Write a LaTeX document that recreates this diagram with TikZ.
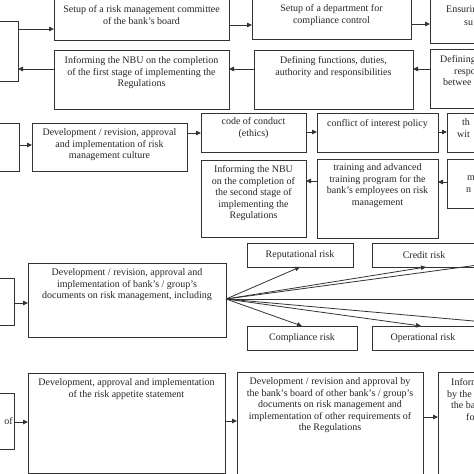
\documentclass[tikz,border=0pt]{standalone}
\usepackage{fontspec}
\setmainfont{Liberation Serif}
\usetikzlibrary{arrows.meta}
\tikzset{
  bx/.style={draw=black!80, line width=0.9pt, anchor=north west, inner sep=0pt, outer sep=0pt},
  txt/.style={font=\fontsize{10}{11.5}\selectfont, text=black!85, align=center, inner sep=0pt, anchor=north, execute at begin node=\strut},
  frag/.style={font=\fontsize{10}{11.5}\selectfont, text=black!85, inner sep=0pt, anchor=north west, execute at begin node=\strut},
  ctxt/.style={font=\fontsize{10}{11.5}\selectfont, text=black!85, inner sep=0pt},
  arr/.style={draw=black!80, line width=0.8pt, -{Triangle[length=5pt,width=4.5pt]}},
  ln/.style={draw=black!80, line width=0.8pt}
}
\newcommand{\bxat}[5]{\node[bx, minimum width=#4pt, minimum height=#5pt] (#1) at (#2,#3) {};}
\begin{document}
\begin{tikzpicture}[x=1pt,y=-1pt]
\useasboundingbox (0,0) rectangle (474,474);
\fill[white] (0,0) rectangle (474,474);
\clip (0,0) rectangle (474,474);
% left column
\bxat{L1}{-20}{21}{38}{60}
\bxat{L2}{-20}{123}{39}{48}
\bxat{L3}{-20}{278}{34}{47}
\bxat{L4}{-20}{393}{34}{56}
\node[ctxt, anchor=base east] (L4t) at (13,424.5) {of};
% row 1
\bxat{A1}{54}{-2}{175}{42}
\bxat{A2}{252}{-2}{159}{41}
\bxat{A3}{430}{-2}{60}{45}
\node[txt] (A1t) at (A1.center |- 0,5.5) {Setup of a risk management committee\\of the bank’s board};
\node[txt] (A2t) at (A2.center |- 0,4.5) {Setup of a department for\\compliance control};
\node[frag] (A3a) at (446,4.5) {Ensuring};
\node[frag] (A3b) at (464,17.5) {su};
% row 2
\bxat{B1}{54}{50}{175}{59}
\bxat{B2}{254}{50}{159}{59}
\bxat{B3}{430}{49}{60}{59}
\node[txt] (B1t) at (B1.center |- 0,56.5) {Informing the NBU on the completion\\of the first stage of implementing the\\Regulations};
\node[txt] (B2t) at (B2.center |- 0,56.5) {Defining functions, duties,\\authority and responsibilities};
\node[frag] (B3a) at (440,54.5) {Defining};
\node[frag] (B3b) at (454,66) {respo};
\node[frag] (B3c) at (443,77.5) {betwee};
% row 3
\bxat{C1}{32}{123}{155}{48}
\bxat{C2}{201}{113}{105}{39}
\bxat{C3}{317}{113}{121}{39}
\bxat{C4}{447}{113}{40}{39}
\node[txt] (C1t) at (C1.center |- 0,128.5) {Development / revision, approval\\and implementation of risk\\management culture};
\node[txt] (C2t) at (C2.center |- 0,117.5) {code of conduct\\(ethics)};
\node[txt] (C3t) at (C3.center |- 0,118.5) {conflict of interest policy};
\node[frag] (C4a) at (462,117.5) {th};
\node[frag] (C4b) at (457,129) {wit};
% row 4
\bxat{D2}{201}{160}{105}{77}
\bxat{D3}{317}{159}{121}{79}
\bxat{D4}{447}{159}{40}{49}
\node[txt] (D2t) at (D2.center |- 0,165.5) {Informing the NBU\\on the completion of\\the second stage of\\implementing the\\Regulations};
\node[txt] (D3t) at (D3.center |- 0,163.5) {training and advanced\\training program for the\\bank’s employees on risk\\management};
\node[frag] (D4a) at (467,172.5) {m};
\node[frag] (D4b) at (466,184) {n};
% row 5
\bxat{E1}{28}{263}{198}{74}
\node[txt] (E1t) at (E1.center |- 0,268.5) {Development / revision, approval and\\implementation of bank’s / group’s\\documents on risk management, including};
\bxat{R1}{247}{243}{106}{24}
\bxat{R2}{372}{243}{110}{24}
\bxat{R3}{247}{326}{110}{24}
\bxat{R4}{372}{326}{110}{24}
\node[ctxt] (R1t) at ([yshift=-0.5pt]R1.center) {Reputational risk};
\node[ctxt] (R2t) at (424,255) {Credit risk};
\node[ctxt] (R3t) at ([yshift=-0.5pt]R3.center) {Compliance risk};
\node[ctxt] (R4t) at (423,338) {Operational risk};
\coordinate (fan) at (226,299);
\coordinate (X1) at (530,258);
\coordinate (X2) at (530,299);
\coordinate (X3) at (530,326);
% row 6
\bxat{F1}{28}{373}{197}{100}
\bxat{F2}{237}{372}{186}{120}
\bxat{F3}{438}{372}{60}{120}
\node[txt] (F1t) at (F1.center |- 0,378.5) {Development, approval and implementation\\of the risk appetite statement};
\node[txt] (F2t) at (F2.center |- 0,377.5) {Development / revision and approval by\\the bank’s board of other bank’s / group’s\\documents on risk management and\\implementation of other requirements of\\the Regulations};
\node[frag] (F3a) at (451,377.5) {Inform};
\node[frag] (F3b) at (447,389) {by the};
\node[frag] (F3c) at (451,400.5) {the ba};
\node[frag] (F3d) at (466,412) {fo};
% connectors
\draw[arr] (L1.east |- 0,29) -- (A1.west |- 0,29);
\draw[arr] (A1.east |- 0,25) -- (A2.west |- 0,25);
\draw[arr] (A2.east |- 0,24) -- (A3.west |- 0,24);
\draw[arr] (B3.west |- 0,69) -- (B2.east |- 0,69);
\draw[arr] (B2.west |- 0,69) -- (B1.east |- 0,69);
\draw[arr] (B1.west |- 0,69) -- (L1.east |- 0,69);
\draw[arr] (L2.east |- 0,145) -- (C1.west |- 0,145);
\draw[arr] (C1.east |- 0,133) -- (C2.west |- 0,133);
\draw[arr] (C2.east |- 0,132) -- (C3.west |- 0,132);
\draw[arr] (C3.east |- 0,132) -- (C4.west |- 0,132);
\draw[arr] (D4.west |- 0,182) -- (D3.east |- 0,182);
\draw[arr] (D3.west |- 0,181) -- (D2.east |- 0,181);
\draw[arr] (L3.east |- 0,303) -- (E1.west |- 0,303);
\draw[arr] (fan) -- (R1.south);
\draw[arr] (fan) -- (R2.south -| 426,0);
\draw[ln] (fan) -- (X1);
\draw[ln] (fan) -- (X2);
\draw[arr] (fan) -- (R3.north);
\draw[arr] (fan) -- (R4.north -| 421,0);
\draw[ln] (fan) -- (X3);
\draw[arr] (L4.east |- 0,422) -- (F1.west |- 0,422);
\draw[arr] (F1.east |- 0,421) -- (F2.west |- 0,421);
\draw[arr] (F2.east |- 0,417) -- (F3.west |- 0,417);
\end{tikzpicture}
\end{document}
